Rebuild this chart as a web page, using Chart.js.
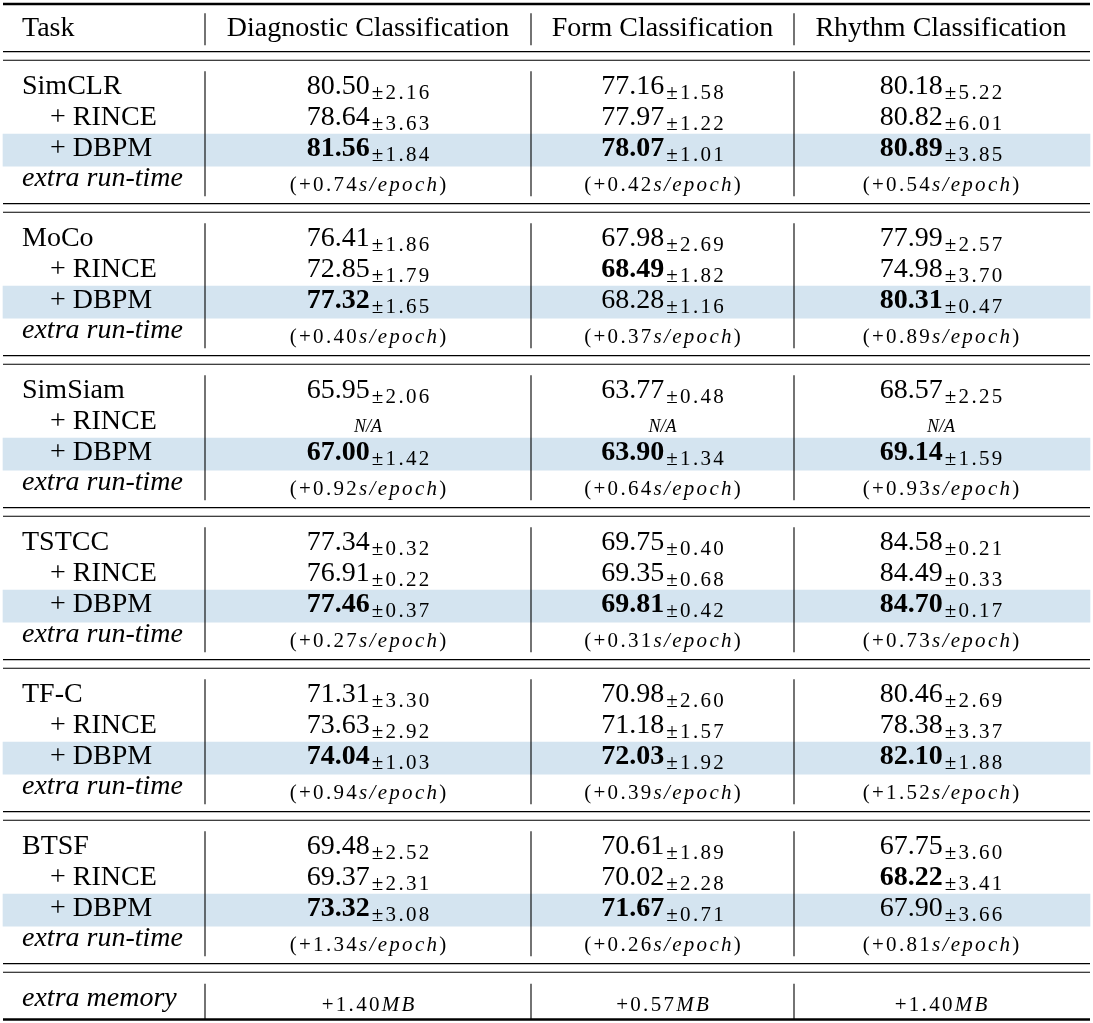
<!DOCTYPE html>
<html>
<head>
<meta charset="utf-8">
<title>DBPM results table</title>
<script src="https://cdn.jsdelivr.net/npm/chart.js@4.4.1/dist/chart.umd.min.js"></script>
<style>
  html, body { margin: 0; padding: 0; background: #fff; }
  #wrap { width: 1093px; height: 1023px; }
</style>
</head>
<body>
<div id="wrap"><canvas id="resultsTable" width="1093" height="1023"></canvas></div>
<script>
var methods = ['SimCLR', 'MoCo', 'SimSiam', 'TSTCC', 'TF-C', 'BTSF'];
var variants = ['+ RINCE', '+ DBPM'];
var tasks = ['Diagnostic Classification', 'Form Classification', 'Rhythm Classification'];

var baseMean = [[80.50, 77.16, 80.18], [76.41, 67.98, 77.99], [65.95, 63.77, 68.57],
                [77.34, 69.75, 84.58], [71.31, 70.98, 80.46], [69.48, 70.61, 67.75]];
var baseStd  = [[2.16, 1.58, 5.22], [1.86, 2.69, 2.57], [2.06, 0.48, 2.25],
                [0.32, 0.40, 0.21], [3.30, 2.60, 2.69], [2.52, 1.89, 3.60]];
var rinceMean = [[78.64, 77.97, 80.82], [72.85, 68.49, 74.98], [null, null, null],
                 [76.91, 69.35, 84.49], [73.63, 71.18, 78.38], [69.37, 70.02, 68.22]];
var rinceStd  = [[3.63, 1.22, 6.01], [1.79, 1.82, 3.70], [null, null, null],
                 [0.22, 0.68, 0.33], [2.92, 1.57, 3.37], [2.31, 2.28, 3.41]];
var dbpmMean = [[81.56, 78.07, 80.89], [77.32, 68.28, 80.31], [67.00, 63.90, 69.14],
                [77.46, 69.81, 84.70], [74.04, 72.03, 82.10], [73.32, 71.67, 67.90]];
var dbpmStd  = [[1.84, 1.01, 3.85], [1.65, 1.16, 0.47], [1.42, 1.34, 1.59],
                [0.37, 0.42, 0.17], [1.03, 1.92, 1.88], [3.08, 0.71, 3.66]];
var runTime = [[0.74, 0.42, 0.54], [0.40, 0.37, 0.89], [0.92, 0.64, 0.93],
               [0.27, 0.31, 0.73], [0.94, 0.39, 1.52], [1.34, 0.26, 0.81]];
var extraMemory = [1.40, 0.57, 1.40];

// ---- layout (x in table units, y in row units) ----
var TABLE_LEFT = 3, TABLE_RIGHT = 1090;
var COL_SEPS = [205, 531, 794];
var COL_CENTERS = [368, 662.5, 941];
var LABEL_X = 22, INDENT_X = 50;
var GROUP_STEP = 4.935;
function rowPos(g, r) { return g * GROUP_STEP + r; }
var HEADER_ROW = rowPos(-1, 3.05);
var MEMORY_ROW = rowPos(methods.length, 0);
var TOP_RULE = -2.92, BOTTOM_RULE = 30.05;

var SERIF = '"Liberation Serif", "Times New Roman", serif';
var SMALL = '21px ';
var SMALL_SP = 2.3;

function spacedWidth(ctx, str, sp) {
  var w = 0;
  for (var i = 0; i < str.length; i++) {
    w += ctx.measureText(str[i]).width;
    if (i < str.length - 1) w += sp;
  }
  return w;
}
function drawSpaced(ctx, str, x, y, sp) {
  for (var i = 0; i < str.length; i++) {
    ctx.fillText(str[i], x, y);
    x += ctx.measureText(str[i]).width + sp;
  }
}

// pieces = [[text, font], ...], centered on cx
function drawPieces(ctx, pieces, cx, y, sp) {
  var total = 0;
  pieces.forEach(function(p, i) {
    ctx.font = p[1];
    total += spacedWidth(ctx, p[0], sp) + (i < pieces.length - 1 ? sp : 0);
  });
  var x = cx - total / 2;
  ctx.textAlign = 'left';
  pieces.forEach(function(p) {
    ctx.font = p[1];
    drawSpaced(ctx, p[0], x, y, sp);
    x += spacedWidth(ctx, p[0], sp) + sp;
  });
}

function drawValue(ctx, cx, y, mean, std, bold) {
  var main = mean.toFixed(2), sub = '\u00b1' + std.toFixed(2);
  var mainFont = (bold ? 'bold ' : '') + '28px ' + SERIF;
  var subFont = SMALL + SERIF;
  ctx.font = mainFont;
  var w1 = ctx.measureText(main).width;
  ctx.font = subFont;
  var w2 = spacedWidth(ctx, sub, SMALL_SP);
  var x0 = cx - (w1 + 2 + w2) / 2;
  ctx.textAlign = 'left';
  ctx.font = mainFont;
  ctx.fillText(main, x0, y);
  ctx.font = subFont;
  drawSpaced(ctx, sub, x0 + w1 + 2, y + 5, SMALL_SP);
}

function hline(ctx, x1, x2, y, lw) {
  ctx.lineWidth = lw;
  ctx.beginPath(); ctx.moveTo(x1, y); ctx.lineTo(x2, y); ctx.stroke();
}
function vline(ctx, x, y1, y2) {
  ctx.lineWidth = 1.1;
  ctx.beginPath(); ctx.moveTo(x, y1); ctx.lineTo(x, y2); ctx.stroke();
}

var table_plug = {
  id: 'tablePlug',
  afterDatasetsDraw: function(chart) {
    var ctx = chart.ctx,
        xs = chart.scales.x,
        ys = chart.scales.y;
    var px = function(v) { return xs.getPixelForValue(v); };
    var py = function(v) { return ys.getPixelForValue(v); };
    var left = px(TABLE_LEFT), right = px(TABLE_RIGHT);

    ctx.save();
    ctx.fillStyle = '#000';
    ctx.strokeStyle = '#000';
    ctx.textBaseline = 'alphabetic';

    // rules
    hline(ctx, left, right, py(TOP_RULE), 2.4);
    for (var g = -1; g < methods.length; g++) {
      var c = py(rowPos(g, 3.7));
      hline(ctx, left, right, c - 4.3, 1.1);
      hline(ctx, left, right, c + 4.3, 1.1);
    }
    hline(ctx, left, right, py(BOTTOM_RULE), 2.4);

    // column separators
    COL_SEPS.forEach(function(sx) {
      var x = px(sx);
      vline(ctx, x, py(HEADER_ROW - 0.74), py(HEADER_ROW + 0.3));
      for (var g = 0; g < methods.length; g++) {
        vline(ctx, x, py(rowPos(g, 0) - 0.74), py(rowPos(g, 3) + 0.32));
      }
      vline(ctx, x, py(MEMORY_ROW - 0.72), py(MEMORY_ROW + 0.42));
    });

    // header
    ctx.font = '28px ' + SERIF;
    ctx.textAlign = 'left';
    ctx.fillText('Task', px(LABEL_X), py(HEADER_ROW));
    ctx.textAlign = 'center';
    tasks.forEach(function(t, c) { ctx.fillText(t, px(COL_CENTERS[c]), py(HEADER_ROW)); });

    // method groups
    for (var g = 0; g < methods.length; g++) {
      ctx.textAlign = 'left';
      ctx.font = '28px ' + SERIF;
      ctx.fillText(methods[g], px(LABEL_X), py(rowPos(g, 0)));
      ctx.fillText(variants[0], px(INDENT_X), py(rowPos(g, 1)));
      ctx.fillText(variants[1], px(INDENT_X), py(rowPos(g, 2)));
      ctx.font = 'italic 28px ' + SERIF;
      ctx.fillText('extra run-time', px(LABEL_X), py(rowPos(g, 3)));

      for (var c = 0; c < tasks.length; c++) {
        var cx = px(COL_CENTERS[c]);
        var best = Math.max(baseMean[g][c], rinceMean[g][c] == null ? -1 : rinceMean[g][c], dbpmMean[g][c]);
        drawValue(ctx, cx, py(rowPos(g, 0)), baseMean[g][c], baseStd[g][c], baseMean[g][c] === best);
        if (rinceMean[g][c] == null) {
          ctx.font = 'italic 18px ' + SERIF;
          ctx.textAlign = 'center';
          ctx.fillText('N/A', cx, py(rowPos(g, 1)) + 3);
        } else {
          drawValue(ctx, cx, py(rowPos(g, 1)), rinceMean[g][c], rinceStd[g][c], rinceMean[g][c] === best);
        }
        drawValue(ctx, cx, py(rowPos(g, 2)), dbpmMean[g][c], dbpmStd[g][c], dbpmMean[g][c] === best);
        drawPieces(ctx, [
          ['(+' + runTime[g][c].toFixed(2), SMALL + SERIF],
          ['s/epoch', 'italic ' + SMALL + SERIF],
          [')', SMALL + SERIF]
        ], cx, py(rowPos(g, 3)) + 5, SMALL_SP);
      }
    }

    // memory row
    ctx.textAlign = 'left';
    ctx.font = 'italic 28px ' + SERIF;
    ctx.fillText('extra memory', px(LABEL_X), py(MEMORY_ROW));
    extraMemory.forEach(function(m, c) {
      drawPieces(ctx, [
        ['+' + m.toFixed(2), SMALL + SERIF],
        ['MB', 'italic ' + SMALL + SERIF]
      ], px(COL_CENTERS[c]), py(MEMORY_ROW) + 5, SMALL_SP);
    });

    ctx.restore();
  }
};

// highlight bands behind the DBPM rows, as floating horizontal bars
var bandData = methods.map(function(m, g) {
  return { y: rowPos(g, 2) - 0.18, x: [TABLE_LEFT, TABLE_RIGHT] };
});

var ctx = document.getElementById('resultsTable').getContext('2d');
var resultsTable = new Chart(ctx, {
  type: 'bar',
  plugins: [table_plug],
  data: {
    datasets: [{
      label: 'DBPM rows',
      data: bandData,
      backgroundColor: '#d4e4f0',
      borderWidth: 0,
      barThickness: 32
    }]
  },
  options: {
    indexAxis: 'y',
    responsive: false,
    animation: false,
    events: [],
    layout: { padding: 0 },
    plugins: { legend: { display: false }, tooltip: { enabled: false } },
    scales: {
      x: { type: 'linear', min: 0, max: 1093, display: false },
      y: { type: 'linear', min: -3.052, max: 30.162, reverse: true, offset: false, display: false }
    }
  }
});
</script>
</body>
</html>
